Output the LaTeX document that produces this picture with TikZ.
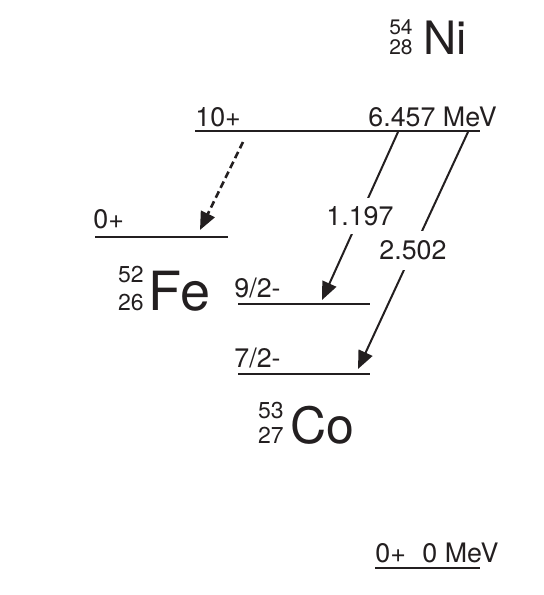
\documentclass[tikz,border=0pt]{standalone}
\usepackage{fontspec}
\setmainfont{TeX Gyre Heros}
\usetikzlibrary{arrows.meta,calc}
\definecolor{ink}{HTML}{231F20}

\begin{document}
\begin{tikzpicture}[x=.5pt,y=-.5pt,color=ink,
  level/.style={line width=1pt},
  gamma/.style={line width=1pt,-{Triangle[length=9pt,width=7.5pt]}},
  lab/.style={font=\fontsize{13.4}{15}\selectfont,inner sep=0pt},
  elab/.style={font=\fontsize{13.4}{15}\selectfont,fill=white,inner sep=4pt},
  nuc/.style={inner sep=0pt,anchor=base west},
  num/.style={inner sep=0pt,anchor=base east}]
\useasboundingbox (0,0) rectangle (544,595);
% nuclides
\node[nuc,font=\fontsize{23}{25}\selectfont] (ni) at (423,54) {Ni};
\node[num,font=\fontsize{10.5}{12}\selectfont] (ni-a) at (413,34) {54};
\node[num,font=\fontsize{10.5}{12}\selectfont] (ni-z) at (413,54) {28};
\node[nuc,font=\fontsize{27}{30}\selectfont] (fe) at (148,310) {Fe};
\node[num,font=\fontsize{11.5}{13}\selectfont] (fe-a) at (144,282) {52};
\node[num,font=\fontsize{11.5}{13}\selectfont] (fe-z) at (144,310) {26};
\node[nuc,font=\fontsize{25}{28}\selectfont] (co) at (290,443) {Co};
\node[num,font=\fontsize{11.5}{13}\selectfont] (co-a) at (284,418) {53};
\node[num,font=\fontsize{11.5}{13}\selectfont] (co-z) at (284,443) {27};
% levels
\coordinate (ni10-w) at (195,131); \coordinate (ni10-e) at (480,131);
\coordinate (fe0-w) at (95,237); \coordinate (fe0-e) at (228,237);
\coordinate (co9-w) at (238,304); \coordinate (co9-e) at (370,304);
\coordinate (co7-w) at (238,374); \coordinate (co7-e) at (370,374);
\coordinate (ni0-w) at (375,568); \coordinate (ni0-e) at (480,568);
\draw[level] (ni10-w) -- (ni10-e);
\draw[level] (fe0-w) -- (fe0-e);
\draw[level] (co9-w) -- (co9-e);
\draw[level] (co7-w) -- (co7-e);
\draw[level] (ni0-w) -- (ni0-e);
\node[lab,anchor=base west] (ni10-j) at (195,126) {10+};
\node[lab,anchor=base east] (ni10-en) at (497,126) {6.457 MeV};
\node[lab,anchor=base west] (fe0-j) at (93,228) {0+};
\node[lab,anchor=base west] (co9-j) at (234,297) {9/2-};
\node[lab,anchor=base west] (co7-j) at (234,367) {7/2-};
\node[lab,anchor=base west] (ni0-j) at (375,562) {\makebox[61.5pt][s]{0+\hfill 0 MeV}};
% transitions
\coordinate (p-from) at (243,142); \coordinate (p-to) at (200,230);
\coordinate (g1-from) at (398,132); \coordinate (g1-to) at (322,300);
\coordinate (g2-from) at (468,132); \coordinate (g2-to) at (358,369);
\draw[gamma,line width=1.3pt,dash pattern=on 3.5pt off 2pt] (p-from) -- (p-to);
\draw[gamma] (g1-from) -- node[elab] (g1-e) {1.197} (g1-to);
\draw[gamma] (g2-from) -- node[elab,inner sep=5pt] (g2-e) {2.502} (g2-to);
\end{tikzpicture}
\end{document}
